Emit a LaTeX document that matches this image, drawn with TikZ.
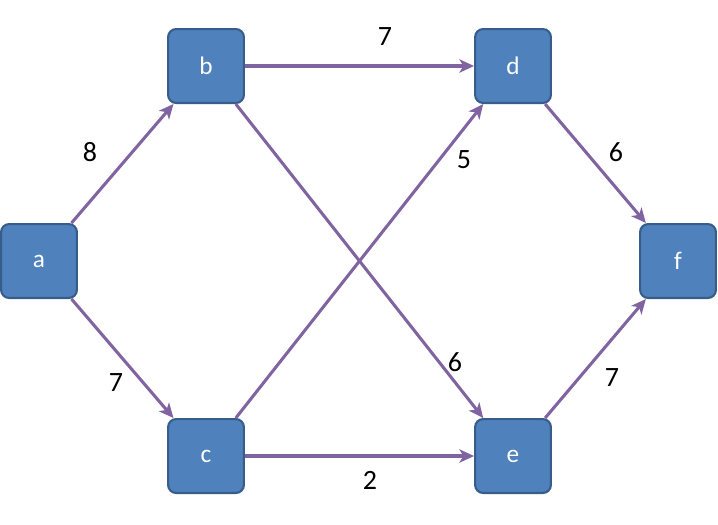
\documentclass[tikz,border=0pt]{standalone}
\usepackage{fontspec}
\setmainfont{Carlito}
\usetikzlibrary{arrows.meta}
\definecolor{nodefill}{HTML}{4F81BD}
\definecolor{nodeline}{HTML}{385D8A}
\definecolor{edgecol}{HTML}{8064A2}
\begin{document}
\begin{tikzpicture}[x=0.0264cm,y=-0.0264cm,
  vert/.style={draw=nodeline,line width=1.6pt,fill=nodefill,rounded corners=6pt,minimum width=2cm,minimum height=1.95cm,inner sep=0pt,text=white,font=\fontsize{19}{22}\selectfont},
  edge/.style={draw=edgecol,line width=2.3pt,-{Stealth[length=11pt,width=10pt,inset=3pt]}},
  wt/.style={font=\fontsize{21}{24}\selectfont,text=black}]
\useasboundingbox (0,0) rectangle (718,524);
\node[vert] (a) at (39,261) {a};
\node[vert] (b) at (206,66) {b};
\node[vert] (d) at (513,66) {d};
\node[vert] (f) at (678,261) {f};
\node[vert] (c) at (206,456) {c};
\node[vert] (e) at (513,456) {e};
\draw[edge] (a) -- (b);
\draw[edge] (a) -- (c);
\draw[edge] (b) -- (d);
\draw[edge] (b) -- (e);
\draw[edge] (c) -- (d);
\draw[edge] (c) -- (e);
\draw[edge] (d) -- (f);
\draw[edge] (e) -- (f);
\node[wt] (w1) at (90,152) {8};
\node[wt] (w2) at (116,383) {7};
\node[wt] (w3) at (385,37) {7};
\node[wt] (w4) at (464,160) {5};
\node[wt] (w5) at (616,152) {6};
\node[wt] (w6) at (455,362) {6};
\node[wt] (w7) at (612,378) {7};
\node[wt] (w8) at (370,480) {2};
\end{tikzpicture}
\end{document}
